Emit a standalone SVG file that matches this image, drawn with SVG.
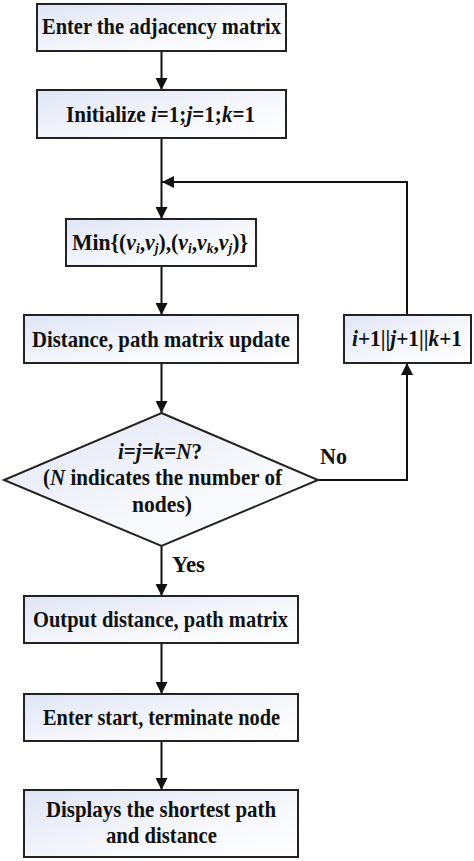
<svg xmlns="http://www.w3.org/2000/svg" width="474" height="861" viewBox="0 0 474 861">
<defs>
<linearGradient id="g" x1="0" y1="0" x2="1" y2="1">
<stop offset="0" stop-color="#dfe5f5"/>
<stop offset="0.6" stop-color="#f7f8fc"/>
<stop offset="1" stop-color="#ffffff"/>
</linearGradient>
<marker id="arr" viewBox="0 0 12 12" refX="12" refY="6" markerWidth="12" markerHeight="12" markerUnits="userSpaceOnUse" orient="auto">
<path d="M0,0 L12,6 L0,12 z" fill="#111"/>
</marker>
<style>
.box{fill:url(#g);stroke:#222;stroke-width:2}
.t{font-family:'Liberation Serif',serif;font-weight:bold;font-size:22.5px;fill:#111;text-anchor:middle}
.i{font-style:italic}
.s{font-size:14px;font-style:italic}
.c{fill:none;stroke:#111;stroke-width:2}
</style>
</defs>
<g id="connectors">
<path class="c" d="M161.5,51 V90" marker-end="url(#arr)"/>
<path class="c" d="M161.5,138 V219" marker-end="url(#arr)"/>
<path class="c" d="M407,315 V182 H162" marker-end="url(#arr)"/>
<path class="c" d="M161.5,266 V315" marker-end="url(#arr)"/>
<path class="c" d="M161.5,363 V413" marker-end="url(#arr)"/>
<path class="c" d="M318,480 H407 V363" marker-end="url(#arr)"/>
<path class="c" d="M161.5,546 V596" marker-end="url(#arr)"/>
<path class="c" d="M161.5,643 V694" marker-end="url(#arr)"/>
<path class="c" d="M161.5,741 V790" marker-end="url(#arr)"/>
<text class="t" x="333.5" y="464" textLength="27" lengthAdjust="spacingAndGlyphs">No</text>
<text class="t" x="188.5" y="572" textLength="33" lengthAdjust="spacingAndGlyphs">Yes</text>
</g>
<g id="n1">
<rect class="box" x="37" y="4" width="249" height="47"/>
<text class="t" x="161.5" y="34" textLength="239" lengthAdjust="spacingAndGlyphs">Enter the adjacency matrix</text>
</g>
<g id="n2">
<rect class="box" x="37" y="90" width="249" height="48"/>
<text class="t" x="160.5" y="122" textLength="189" lengthAdjust="spacingAndGlyphs">Initialize <tspan class="i">i</tspan>=1;<tspan class="i">j</tspan>=1;<tspan class="i">k</tspan>=1</text>
</g>
<g id="n3">
<rect class="box" x="66" y="219" width="190" height="47"/>
<text class="t" x="160" y="250" textLength="176" lengthAdjust="spacingAndGlyphs">Min{(<tspan class="i">v</tspan><tspan class="s" dy="3">i</tspan><tspan dy="-3">,</tspan><tspan class="i">v</tspan><tspan class="s" dy="3">j</tspan><tspan dy="-3">),(</tspan><tspan class="i">v</tspan><tspan class="s" dy="3">i</tspan><tspan dy="-3">,</tspan><tspan class="i">v</tspan><tspan class="s" dy="3">k</tspan><tspan dy="-3">,</tspan><tspan class="i">v</tspan><tspan class="s" dy="3">j</tspan><tspan dy="-3">)}</tspan></text>
</g>
<g id="n4">
<rect class="box" x="24" y="315" width="274" height="48"/>
<text class="t" x="161" y="347" textLength="258" lengthAdjust="spacingAndGlyphs">Distance, path matrix update</text>
</g>
<g id="n5">
<rect class="box" x="344" y="315" width="127" height="48"/>
<text class="t" x="407" y="346" textLength="110" lengthAdjust="spacingAndGlyphs"><tspan class="i">i</tspan>+1||<tspan class="i">j</tspan>+1||<tspan class="i">k</tspan>+1</text>
</g>
<g id="n6">
<polygon class="box" points="161.5,413 318,480 161.5,546 4,480"/>
<text class="t" x="160" y="459" textLength="84" lengthAdjust="spacingAndGlyphs"><tspan class="i">i</tspan>=<tspan class="i">j</tspan>=<tspan class="i">k</tspan>=<tspan class="i">N</tspan>?</text>
<text class="t" x="162.5" y="485" textLength="239" lengthAdjust="spacingAndGlyphs">(<tspan class="i">N</tspan> indicates the number of</text>
<text class="t" x="162" y="512" textLength="60" lengthAdjust="spacingAndGlyphs">nodes)</text>
</g>
<g id="n7">
<rect class="box" x="24" y="596" width="274" height="47"/>
<text class="t" x="160.5" y="627" textLength="255" lengthAdjust="spacingAndGlyphs">Output distance, path matrix</text>
</g>
<g id="n8">
<rect class="box" x="24" y="694" width="274" height="47"/>
<text class="t" x="161.5" y="725" textLength="237" lengthAdjust="spacingAndGlyphs">Enter start, terminate node</text>
</g>
<g id="n9">
<rect class="box" x="24" y="790" width="274" height="67"/>
<text class="t" x="161" y="817" textLength="230" lengthAdjust="spacingAndGlyphs">Displays the shortest path</text>
<text class="t" x="161.5" y="843" textLength="111" lengthAdjust="spacingAndGlyphs">and distance</text>
</g>
</svg>
